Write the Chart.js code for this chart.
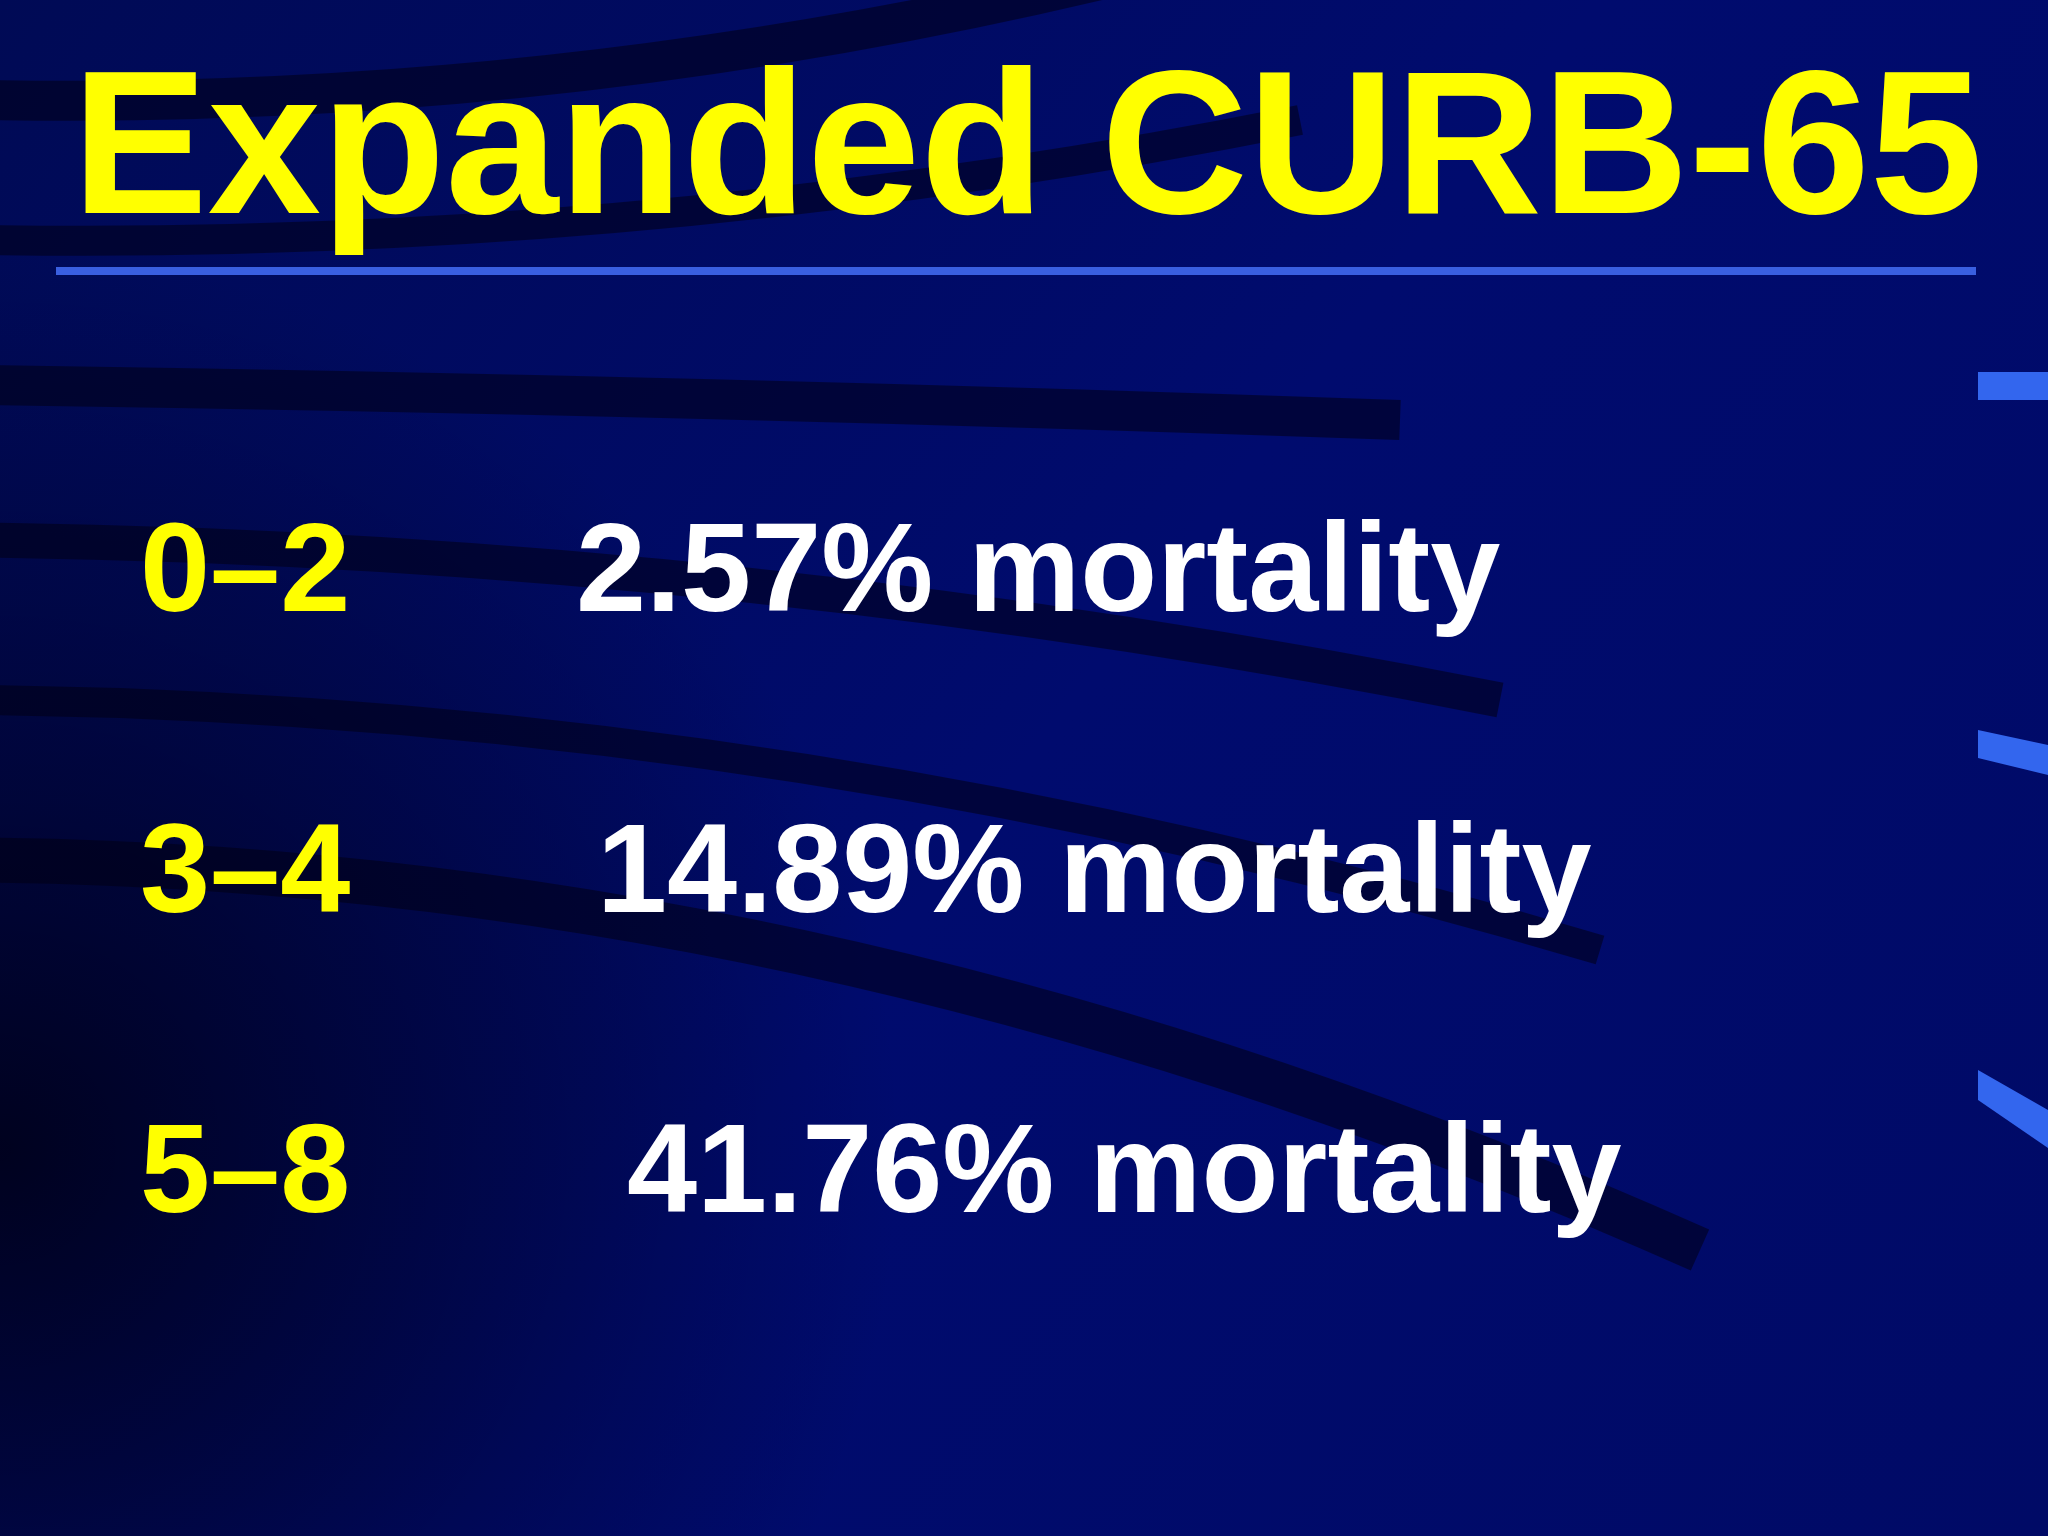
<!DOCTYPE html>
<html><head><meta charset="utf-8">
<script src="https://cdn.jsdelivr.net/npm/chart.js@4/dist/chart.umd.min.js"></script>
<style>html,body{margin:0;padding:0;background:#000060;}canvas{display:block;}</style>
</head><body>
<div style="width:2048px;height:1536px;position:relative"><canvas id="c"></canvas></div>
<script>
const title = "Expanded CURB-65";
const scoreRanges = ["0–2", "3–4", "5–8"];
const mortality = [2.57, 14.89, 41.76];
const suffix = "% mortality";

const xOffsets = [576, 597, 627]; // layout only

const bgPlugin = {
  id: 'bg',
  beforeDraw(chart) {
    const ctx = chart.ctx, W = chart.width, H = chart.height;
    ctx.save();
    let g = ctx.createLinearGradient(0, 0, W, H);
    g.addColorStop(0, '#000a55'); g.addColorStop(0.5, '#000b6e'); g.addColorStop(1, '#000a66');
    ctx.fillStyle = g; ctx.fillRect(0, 0, W, H);
    // dark bottom-left
    let r = ctx.createRadialGradient(0, 1150, 10, 0, 1150, 900);
    r.addColorStop(0, 'rgba(0,0,20,0.85)'); r.addColorStop(1, 'rgba(0,0,30,0)');
    ctx.fillStyle = r; ctx.fillRect(0, 0, W, H);
    // streaks
    ctx.strokeStyle = 'rgba(0,0,20,0.55)';
    const streaks = [[100,40,1100,-20,1],[240,30,1300,120,1],[385,40,1400,420,1],[540,35,1500,700,1],[700,30,1600,950,1],[860,45,1700,1250,1]];
    streaks.forEach(s => {
      ctx.lineWidth = s[1];
      ctx.beginPath(); ctx.moveTo(-10, s[0]);
      ctx.quadraticCurveTo(s[2]*0.5, s[0]+10, s[2], s[3]); ctx.stroke();
    });
    // right blue tabs
    ctx.fillStyle = '#3366ee';
    ctx.fillRect(1978, 372, 70, 28);
    ctx.beginPath(); ctx.moveTo(1978, 730); ctx.lineTo(2048, 745); ctx.lineTo(2048, 775); ctx.lineTo(1978, 758); ctx.fill();
    ctx.beginPath(); ctx.moveTo(1978, 1070); ctx.lineTo(2048, 1110); ctx.lineTo(2048, 1148); ctx.lineTo(1978, 1100); ctx.fill();
    // title
    ctx.fillStyle = '#ffff00';
    let fs = 208;
    ctx.font = `bold ${fs}px "Liberation Sans", Arial, sans-serif`;
    const w = ctx.measureText(title).width;
    fs = fs * 1911 / w;
    ctx.font = `bold ${fs}px "Liberation Sans", Arial, sans-serif`;
    ctx.textBaseline = 'alphabetic';
    ctx.fillText(title, 72, 213);
    // rule
    ctx.fillStyle = '#3a5fe0';
    ctx.fillRect(56, 267, 1920, 8);
    ctx.restore();
  },
  afterDraw(chart) {
    const ctx = chart.ctx, ys = chart.scales.y, left = chart.chartArea.left;
    ctx.save();
    ctx.font = 'bold 126px "Liberation Sans", Arial, sans-serif';
    ctx.textBaseline = 'alphabetic';
    scoreRanges.forEach((lab, i) => {
      const y = ys.getPixelForValue(i);
      ctx.fillStyle = '#ffff00';
      ctx.fillText(lab, left, y);
      ctx.fillStyle = '#ffffff';
      ctx.fillText(mortality[i].toFixed(2) + suffix, xOffsets[i], y);
    });
    ctx.restore();
  }
};

new Chart(document.getElementById('c'), {
  type: 'line',
  data: { labels: scoreRanges, datasets: [{ data: mortality.map(() => null), pointRadius: 0 }] },
  options: {
    responsive: true, maintainAspectRatio: false, animation: false,
    layout: { padding: { top: 611, bottom: 1536 - 1212, left: 140, right: 0 } },
    plugins: { legend: { display: false }, tooltip: { enabled: false } },
    scales: {
      x: { display: false },
      y: { type: 'category', labels: scoreRanges, offset: false, display: false }
    }
  },
  plugins: [bgPlugin]
});
</script>
</body></html>
